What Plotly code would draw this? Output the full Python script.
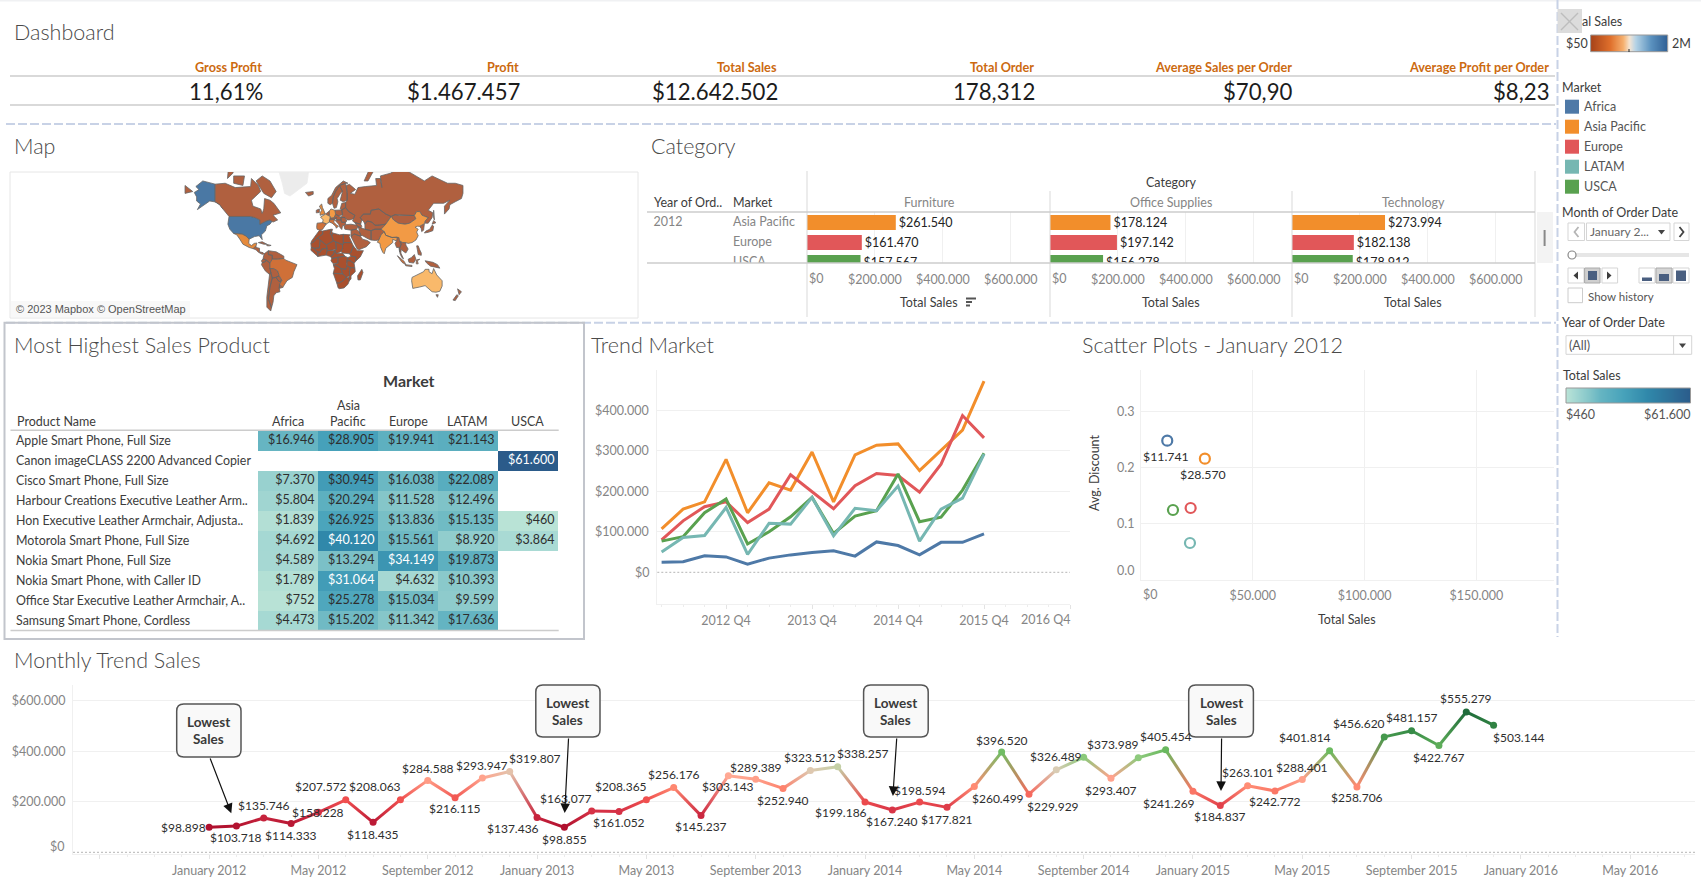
import math
import plotly.graph_objects as go
from plotly.colors import sample_colorscale

W, H = 1701, 892
FONT = "Lato"
TITLE_FONT = "Lato Light, Lato"

# ---------- data ----------
KPI_NAMES = ["Gross Profit", "Profit", "Total Sales", "Total Order", "Average Sales per Order", "Average Profit per Order"]
KPI_VALUES = ["11,61%", "$1.467.457", "$12.642.502", "178,312", "$70,90", "$8,23"]

MARKETS = ["Africa", "Asia Pacific", "Europe", "LATAM", "USCA"]
MARKET_COLORS = ["#4e79a7", "#f28e2b", "#e15759", "#76b7b2", "#59a14f"]

CATEGORY_NAMES = ["Furniture", "Office Supplies", "Technology"]
BAR_MARKETS = ["Asia Pacific", "Europe", "USCA"]
BAR_FURNITURE = [261540, 161470, 157567]
BAR_OFFICE = [178124, 197142, 156278]
BAR_TECHNOLOGY = [273994, 182138, 178912]

PRODUCTS = ["Apple Smart Phone, Full Size", "Canon imageCLASS 2200 Advanced Copier", "Cisco Smart Phone, Full Size",
            "Harbour Creations Executive Leather Arm..", "Hon Executive Leather Armchair, Adjusta..",
            "Motorola Smart Phone, Full Size", "Nokia Smart Phone, Full Size", "Nokia Smart Phone, with Caller ID",
            "Office Star Executive Leather Armchair, A..", "Samsung Smart Phone, Cordless"]
TABLE_AFRICA = [16946, None, 7370, 5804, 1839, 4692, 4589, 1789, 752, 4473]
TABLE_ASIA = [28905, None, 30945, 20294, 26925, 40120, 13294, 31064, 25278, 15202]
TABLE_EUROPE = [19941, None, 16038, 11528, 13836, 15561, 34149, 4632, 15034, 11342]
TABLE_LATAM = [21143, None, 22089, 12496, 15135, 8920, 19873, 10393, 9599, 17636]
TABLE_USCA = [None, 61600, None, None, 460, 3864, None, None, None, None]
TABLE_WHITE_TEXT = {40120, 34149, 31064, 61600}

QUARTER_TICKS = ["2012 Q4", "2013 Q4", "2014 Q4", "2015 Q4"]
TREND_AFRICA = [25000, 26000, 41000, 38000, 20000, 35000, 43000, 49000, 53000, 40000, 75000, 66000, 43000, 74000, 74000, 95000]
TREND_ASIA = [107000, 156000, 174000, 279000, 147000, 221000, 203000, 297000, 174000, 290000, 314000, 317000, 251000, 302000, 351000, 472000]
TREND_EUROPE = [80000, 127000, 162000, 174000, 123000, 156000, 241000, 199000, 157000, 214000, 244000, 239000, 198000, 267000, 387000, 332000]
TREND_LATAM = [50000, 86000, 91000, 160000, 44000, 121000, 119000, 185000, 90000, 158000, 152000, 213000, 77000, 156000, 183000, 292000]
TREND_USCA = [77000, 88000, 147000, 181000, 70000, 100000, 137000, 185000, 96000, 139000, 152000, 243000, 125000, 136000, 203000, 294000]

SCATTER_SALES = [11741, 28570, 22200, 21900, 14300]
SCATTER_DISCOUNT = [0.2476, 0.2155, 0.1274, 0.0649, 0.1238]
SCATTER_LABELS = ["$11.741", "$28.570", "", "", ""]

MONTHLY = [98898, 103718, 135746, 114333, 158228, 207572, 118435, 208063, 284588, 216115, 293947, 319807,
           137436, 98855, 163077, 161052, 208365, 256176, 145237, 303143, 289389, 252940, 323512, 338257,
           199186, 167240, 198594, 177821, 260499, 396520, 229929, 326489, 376000, 293407, 373989, 405454,
           241269, 184837, 263101, 242772, 288401, 401814, 258706, 456620, 481157, 422767, 555279, 503144]
MONTH_TICKS = ["January 2012", "May 2012", "September 2012", "January 2013", "May 2013", "September 2013",
               "January 2014", "May 2014", "September 2014", "January 2015", "May 2015", "September 2015",
               "January 2016", "May 2016"]
MONTH_NO_LABEL = [32]

# country outlines, lon/lat pairs
BROWN = "#b0603f"; AFR = "#a9502e"; BLUE = "#4a78a4"
MAP_GROUPS = {
 "#ececec": [[(-73,78),(-60,76),(-54,70),(-51,65),(-44,63.5),(-36,66),(-22,70),(-18,78),(-30,83),(-60,82)]],
 BLUE: [[(-168,65.5),(-162,67),(-166,68.5),(-157,71),(-141,69.6),(-141,60),(-135,58),(-131,55),(-134,58.5),(-140,59.8),(-148,60.5),(-152,59),(-158,56.5),(-164,54.5),(-160,58.5),(-165,60.5),(-165,63)],
        [(-123,49),(-95,49),(-89,48),(-83,46),(-83,42),(-75,45),(-70,46),(-67,45),(-70,42),(-74,40.5),(-76,35),(-81,31),(-80,25.5),(-82.5,28),(-84,30),(-90,29),(-97,26),(-101,29.5),(-106,31.7),(-114.7,32.5),(-117,32.5),(-122,37),(-124.5,42)]],
 BROWN: [[(-141,69.6),(-128,70),(-115,68),(-95,68.5),(-94,72),(-85,69),(-82,66),(-94,61),(-92,57),(-82,55),(-80,51.5),(-78,55),(-77,62),(-70,61),(-65,59),(-56,52),(-66,50),(-60,46),(-66,44),(-70,46),(-75,45),(-83,42),(-83,46),(-89,48),(-95,49),(-123,49),(-131,55),(-135,58),(-141,60)],
         [(-80,73),(-70,71),(-62,66),(-68,62.5),(-78,65),(-88,71)], [(-117,70),(-105,69),(-103,73),(-117,73)], [(-90,76),(-75,76),(-62,82),(-85,83)], [(-125,72),(-118,74),(-116,76),(-124,75)],
         [(28,56),(28,59.5),(30,61),(30,65),(29,69),(33,69.5),(41,67),(34,65),(40,64.5),(44,68),(54,68.5),(68,69),(67,72),(73,72),(75,68),(73,73),(86,74),(100,76),(113,74),(130,71),(140,73),(160,70),(170,70),(180,69),(180,65),(178,62),(170,60),(163,58),(162,55),(156,51),(156,57),(163,61),(155,59),(142,59),(135,54),(141,52),(140,48),(135,43),(131,43),(131,45),(135,48),(127,50),(124,53),(120,53),(117,49.8),(108,50),(98,50),(92,50.5),(87,49),(80,51),(71,55),(61,54),(60,51),(51,51),(47,48),(49,46),(47.5,42),(40,43.5),(37,45),(38,47),(40,50),(32,53)],
         [(-180,65),(-170,66),(-180,69)], [(52,71),(57,71),(68,76.5),(60,76)], [(142,54),(143,50),(143,46),(142,48)],
         [(47,48),(51,51),(60,51),(61,54),(71,55),(80,51),(87,49),(80,42),(70,41),(66,41),(62,44),(56,45),(53,42),(51,45),(49,46)],
         [(53,42),(56,45),(62,44),(66,41),(70,41),(80,42),(74,37),(66,37),(61,35.5),(53,37)],
         [(87,49),(92,50.5),(98,50),(108,50),(117,49.8),(119,47),(111,43),(105,42),(96,43),(90,46)],
         [(-24,65.5),(-14,66),(-14,64.5),(-20,63.5)], [(-10,52),(-6,52.3),(-6,55),(-10,54)],
         [(2,51),(4,52),(7,53.5),(7,50),(5,49.6)], [(8,47.6),(13,48),(17,48),(14,46.5),(7,46)],
         [(14,54),(23,54.3),(24,50.5),(19,49.5),(15,51)], [(13,48.2),(15,51),(19,49.5),(22,48.5),(22,46),(17,46)],
         [(14.5,45.5),(16.5,46),(22,46),(23,43.8),(28,43.8),(28,41.8),(26,40.8),(24,40.5),(23,36.7),(20,39.5),(19,42)],
         [(22,46),(22,48),(27,48.2),(29.5,45),(28,43.8),(23,43.8)],
         [(24,50.5),(23,54.3),(28,56),(32,53),(40,50),(38,47),(33,46),(30,46),(27,48.2),(22,48)],
         [(21,55),(23,54.3),(28,56),(28,59.5),(23,59)],
         [(5,59),(8,58),(11,59),(12,63),(15,66),(20,69),(28,70),(31,70),(25,71),(15,68),(10,64),(5,62)],
         [(11,59),(13,55.5),(16,56),(18,60),(17,62),(22,65.5),(24,66),(20,69),(15,66),(12,63)],
         [(24,66),(22,63),(21,61),(25,60),(30,61),(30,65),(29,69),(28,70),(20,69)],
         [(-77.5,8),(-72,12),(-72,7),(-67,6),(-67,1),(-70,-4),(-75,0),(-79,1.5)],
         [(-72,12),(-62,10.5),(-52,5),(-52,2),(-60,1),(-67,1),(-67,6),(-72,7)],
         [(-79,1.5),(-75,0),(-75.5,-2),(-80,-3.5),(-81,-1)],
         [(-80,-3.5),(-75.5,-2),(-75,0),(-70,-4),(-70,-11),(-69,-16),(-70.5,-18.5),(-76,-14),(-81,-6)],
         [(-70,-11),(-65,-11),(-60,-14),(-58,-20),(-62.5,-22),(-67,-22.8),(-69,-16)],
         [(-58,-20),(-54.5,-25.5),(-58,-27),(-62.5,-22)], [(-57.5,-30),(-53.5,-33.5),(-58,-34.5)],
         [(-70.5,-18.5),(-69,-16),(-67,-22.8),(-70,-33),(-72,-45),(-68,-52.5),(-69,-55),(-74,-52),(-74,-43),(-71.5,-30)],
         [(-67,-22.8),(-62.5,-22),(-58,-27),(-54.5,-25.5),(-57.5,-30),(-58,-34.5),(-57,-38),(-62,-39),(-65,-42),(-66,-48),(-68,-52.5),(-72,-45),(-70,-33)],
         [(-92,14.6),(-88,18),(-88,16),(-83.5,15),(-83.5,10.5),(-79,9.5),(-77.5,8),(-80,7.3),(-85,10),(-88,13)],
         [(-85,22),(-80,23),(-74,20),(-78,20)], [(-74,19.8),(-68.5,18.6),(-71,18),(-74,18.2)],
         [(35,29),(39,32),(47,29.5),(50,26),(56,24.5),(60,22),(55,17),(45,13),(43,14),(39,21)],
         [(35,36),(42,37),(46,34),(48,30),(47,29.5),(39,32),(35,29)],
         [(26,40),(28,41.5),(35,42),(42,41),(44.5,39.5),(42,37),(35,36),(30,36.2),(27,37)],
         [(44.5,39.5),(48,38.5),(53,37),(61,35.5),(61,25),(57,26.5),(50,30),(48,30),(46,34)],
         [(40,43.5),(47.5,42),(49,40),(48,38.5),(44.5,39.5),(42,41)],
         [(61,35.5),(66,37),(74,37),(78,34.5),(74,31),(71,25),(67,24.5),(61,25)],
         [(94,24),(95,28.5),(97,28),(98,24),(100,20),(98,15),(98,10),(97,16),(94,16),(92,21)],
         [(98,24),(102,22),(106,22),(106,19),(109,14),(106,9),(103,11),(100,13.5),(99.5,9),(103,1.5),(101,3),(98.5,8),(98,15),(100,20)],
         [(124,40),(130,42.5),(129,36),(126.5,34.5),(126,37.5)],
         [(130,33),(135,33.7),(141,35.5),(142,40),(140,41),(137,37),(132,35)], [(140,42),(145,43.5),(142,45.5)],
         [(120,18),(122,18),(124,13),(126,9),(126,6),(122,7),(121,13)],
         [(109,1),(113,3),(117,7),(119,1),(116,-4),(110,-3)], [(131,-1),(141,-3),(147,-6),(150,-10.5),(143,-9),(138,-8),(133,-4)],
         [(173,-35),(178,-38),(175,-41),(174,-39)], [(172,-41),(174,-42),(170,-46.5),(167,-46)], [(145,-41),(148,-41),(147,-43.5)]],
 AFR: [[(-6,35.8),(-2,35),(-1.5,32),(-8.7,27.5),(-13,23),(-17,21),(-16,24),(-13,27.7),(-9.8,31.5),(-7,33.5)],
       [(-2,35),(9,37),(8,32),(10,30),(12,24),(3,19),(-5,25),(-8.7,27.5),(-1.5,32)],
       [(9,37),(11,37),(10,34),(11.5,33),(10,30),(8,32)],
       [(11.5,33),(20,31),(25,31.5),(25,20),(24,19.5),(15,23),(12,24),(10,30)],
       [(25,31.5),(34,31),(32.5,29),(36,22),(25,22)],
       [(-17,21),(-13,23),(-8.7,27.5),(-5,25),(-6,15.5),(-12,15),(-16.5,16)],
       [(-12,15),(-6,15.5),(-5,25),(3,19),(4,15),(-3,14),(-5,10),(-8,10.5),(-11.5,12.5)],
       [(3,19),(12,24),(15,23),(16,13.5),(13,13),(4,12),(4,15)],
       [(15,23),(24,19.5),(24,15),(22,11),(16,8),(14,12.5),(16,13.5)],
       [(25,22),(36,22),(38,18),(35,10),(33,8),(24,9),(22,11),(24,15),(24,19.5)],
       [(-16.5,16),(-12,15),(-11.5,12.5),(-8,10.5),(-8,4.5),(-13,8.5),(-17,12.5)],
       [(-8,10.5),(-5,10),(-3,14),(4,15),(4,12),(2.7,6.3),(-8,4.5)],
       [(4,12),(13,13),(14,12.5),(12,7),(8.5,4.5),(5,5.5),(2.7,6.3)],
       [(14,12.5),(16,8),(24,9),(27,5),(18,3.5),(10,2),(8.5,4.5),(12,7)],
       [(38,18),(43,12),(51,12),(47,4),(41,-1.5),(41,4),(35,5),(33,8),(35,10)],
       [(10,2),(18,3.5),(18,-4),(12,-5),(9,-1)],
       [(18,3.5),(27,5),(31,3),(29.5,-4),(30,-8),(28,-12),(22,-11),(18,-8),(12,-6),(18,-4)],
       [(31,3),(35,5),(41,4),(41,-1.5),(39,-4.5),(34,-1),(29.5,-1)],
       [(29.5,-1),(34,-1),(39,-4.5),(40,-10.5),(34,-9.5),(30,-8)],
       [(12,-6),(18,-8),(22,-11),(24,-17.5),(12,-17),(13.5,-11)],
       [(22,-11),(28,-12),(30,-8),(34,-9.5),(33,-15),(33,-20),(29,-22),(25,-18),(24,-17.5)],
       [(34,-9.5),(40,-10.5),(40.5,-15),(35,-20),(35,-24),(32.8,-26),(31.5,-22.5),(33,-20),(33,-15)],
       [(12,-17),(24,-17.5),(25,-18),(29,-22),(25,-25.5),(20,-28.5),(16.5,-28.5)],
       [(16.5,-28.5),(20,-28.5),(25,-25.5),(29,-22),(31.5,-22.5),(32.8,-26),(31,-30),(26,-34),(20,-34.8),(18.3,-34)],
       [(49,-12),(50.5,-16),(47,-25),(44,-25),(43.5,-20),(46,-16)]],
 "#f29a45": [[(74,37),(80,42),(87,49),(90,46),(96,43),(105,42),(111,43),(119,47),(117,49.8),(120,53),(124,53),(127,50),(135,48),(131,45),(130,42.5),(124,40),(121,40),(118,39),(122,37),(120,34),(122,30),(119,25),(114,22),(109,21),(106,22),(102,22),(98,24),(97,28),(88,28),(80,30.5),(78,34.5)],
             [(74,31),(78,34.5),(80,30.5),(88,28),(95,28.5),(94,24),(91,25),(89,26),(89,22),(86,20),(80,15),(78,8),(76,10),(73,17),(72.5,21),(69,22.5),(71,25)],
             [(7,53.5),(9,55),(14,54),(15,51),(13,48),(8,47.6),(8,49),(6,49.6),(7,50)]],
 "#f9b96b": [[(114,-22),(122,-18),(129,-15),(131,-12),(136,-12),(136,-15),(140,-17.5),(142,-11),(146,-19),(153,-26),(153,-32),(150,-37.5),(145,-38.5),(140,-38),(136,-35),(131,-31.5),(124,-33),(115,-34.5),(113.5,-26)],
             [(-2,43.5),(-1,46),(-4.5,48.5),(2,51),(8,49),(7,44),(3,42.3)]],
 "#cf7038": [[(-70,-4),(-67,1),(-60,1),(-52,2),(-50,0),(-44,-2.5),(-35,-6),(-39,-15),(-41,-22),(-48,-26),(-53.5,-33.5),(-57.5,-30),(-54.5,-25.5),(-58,-20),(-60,-14),(-65,-11),(-70,-11)],
             [(-9,43),(-2,43.5),(3,42.3),(0,39),(-2,36.8),(-5.5,36),(-9,37),(-9.5,39)],
             [(7,44),(7,46),(14,46.5),(12.5,44),(16,41.5),(18.5,40),(16,38),(15,40),(10.5,43)],
             [(95,5.5),(104,-2),(106,-6),(101,-3)], [(105,-6),(114,-7),(114,-8.5),(106,-7.5)], [(119.5,0),(124,1),(121,-1),(122,-5),(119.5,-5)]],
 "#e58a3c": [[(-117,32.5),(-114.7,32.5),(-106,31.7),(-101,29.5),(-97,26),(-97.5,21),(-94,18.3),(-90.5,21),(-87,21.5),(-88,18),(-92,14.6),(-97,16),(-105,20),(-109,26),(-113,31)],
             [(-5,50),(1.5,51.2),(0,53.5),(-2,56),(-3,58.5),(-6,57),(-3,54),(-5,52)]],
}

HEAT_STOPS = [[0, "#b9e3d6"], [0.07, "#a5d8d3"], [0.18, "#85c6c9"], [0.27, "#66b5c2"], [0.45, "#48a3bb"], [0.65, "#3088aa"], [1, "#2b5b8a"]]
MONTH_STOPS = [[0, "#b0102e"], [0.13, "#d32f45"], [0.24, "#f0504f"], [0.35, "#ff8a72"], [0.45, "#ffaa95"], [0.5, "#d8cdb5"], [0.56, "#a6d593"], [0.66, "#6dbb60"], [0.82, "#3a8f48"], [1, "#1f6b3a"]]
MAP_STOPS = [[0, "#a7441a"], [0.25, "#e0702c"], [0.42, "#f6b16f"], [0.5, "#f5e6d3"], [0.58, "#b5d3e6"], [0.78, "#5b92bf"], [1, "#2f5f94"]]

# ---------- helpers ----------
def X(p): return p / W
def Y(p): return 1 - p / H

shapes, annos, traces, layout_axes = [], [], [], {}
TXT = "#3c3c3c"; GREY = "#858585"; GRID = "#f0f0f0"; TITLE = "#4a4a4a"

def txt(x, y, s, size=12.5, color=TXT, anchor="left", bold=False, family=FONT, angle=0):
    if bold: s = f"<b>{s}</b>"
    annos.append(dict(xref="paper", yref="paper", x=X(x), y=Y(y), text=s, showarrow=False, xanchor=anchor,
                      yanchor="middle", font=dict(size=size, color=color, family=family), textangle=angle,
                      borderpad=0, borderwidth=0))

def title(x, y, s):
    txt(x, y, s, 21.5, TITLE, family=TITLE_FONT)

def line(x0, y0, x1, y1, color="#cfcfcf", width=1.5, dash=None):
    shapes.append(dict(type="line", xref="paper", yref="paper", x0=X(x0), y0=Y(y0), x1=X(x1), y1=Y(y1),
                       line=dict(color=color, width=width, dash=dash)))

def rect(x0, y0, x1, y1, fill=None, color=None, width=1, layer="above"):
    shapes.append(dict(type="rect", xref="paper", yref="paper", x0=X(x0), y0=Y(y0), x1=X(x1), y1=Y(y1),
                       fillcolor=fill or "rgba(0,0,0,0)", line=dict(color=color or "rgba(0,0,0,0)", width=width if color else 0), layer=layer))

def path(pts, fill=None, color=None, width=1, close=True):
    d = "M " + " L ".join(f"{X(a):.6f},{Y(b):.6f}" for a, b in pts) + (" Z" if close else "")
    shapes.append(dict(type="path", xref="paper", yref="paper", path=d, fillcolor=fill or "rgba(0,0,0,0)",
                       line=dict(color=color or "rgba(0,0,0,0)", width=width if color else 0)))

def rounded(x0, y0, x1, y1, r, fill, color, width):
    a, b, c, d = X(x0), Y(y0), X(x1), Y(y1)
    rx, ry = r / W, r / H
    p = (f"M {a+rx},{b} L {c-rx},{b} Q {c},{b} {c},{b-ry} L {c},{d+ry} Q {c},{d} {c-rx},{d} "
         f"L {a+rx},{d} Q {a},{d} {a},{d+ry} L {a},{b-ry} Q {a},{b} {a+rx},{b} Z")
    shapes.append(dict(type="path", xref="paper", yref="paper", path=p, fillcolor=fill, line=dict(color=color, width=width)))

def axes(n, box, xr, yr, xo=None, yo=None):
    x0, y0, x1, y1 = box
    base = dict(showgrid=False, zeroline=False, showticklabels=False, fixedrange=True, ticks="",
                tickfont=dict(family=FONT, size=12.5, color=GREY), showline=False)
    layout_axes[f"xaxis{n}"] = {**base, "domain": [X(x0), X(x1)], "range": xr, "anchor": f"y{n}", **(xo or {})}
    layout_axes[f"yaxis{n}"] = {**base, "domain": [Y(y1), Y(y0)], "range": yr, "anchor": f"x{n}", **(yo or {})}

def money(v): return "$" + f"{v:,}".replace(",", ".")
def scale(stops, t): return sample_colorscale(stops, [max(0, min(1, t))], colortype="rgb")[0]

def merc(lat): return math.log(math.tan(math.pi / 4 + math.radians(max(-85, min(85, lat))) / 2))

# ---------- frame ----------
rect(0, 0, W, 1.5, fill="#f0f1f3", layer="below")
DASH = "#c8d2e6"
line(6, 124, 1556, 124, DASH, 2, "9px,3px")
line(6, 322.7, 1556, 322.7, DASH, 2, "9px,3px")
line(1557.5, 0, 1557.5, 637, DASH, 2, "9px,3px")

# ---------- KPI ----------
title(14, 32, "Dashboard")
line(10, 76, 1555, 76, "#cccccc"); line(10, 105, 1555, 105, "#cccccc")
for name, val, xr in zip(KPI_NAMES, KPI_VALUES, [262, 519, 777, 1034, 1291.5, 1549]):
    txt(xr, 67, name, 12.7, "#cc6a10", "right", True)
    txt(xr + 1, 92, val, 22.2, "#1c1c1c", "right")

# ---------- map ----------
title(14, 146, "Map")
rect(10, 172, 638, 318, color="#e6e6e6", width=1, layer="below")
axes(2, (10, 172, 638, 318), [-406.7, 406.7], [-1.312, 1.99])
for col, polys in MAP_GROUPS.items():
    xs, ys = [], []
    for poly in polys:
        xs += [p[0] for p in poly] + [poly[0][0], None]
        ys += [merc(p[1]) for p in poly] + [merc(poly[0][1]), None]
    traces.append(go.Scatter(x=xs, y=ys, xaxis="x2", yaxis="y2", mode="lines", fill="toself", fillcolor=col,
                             line=dict(color="#ececec" if col == "#ececec" else "#666666", width=0.8), hoverinfo="skip"))
rect(11, 301, 190, 317, fill="#f8f8f8", layer="above")
txt(15.7, 309, "© 2023 Mapbox © OpenStreetMap", 11, "#555555", family="Liberation Sans")

# ---------- category ----------
title(650.5, 146, "Category")
txt(1171, 182, "Category", 12.5, TXT, "center")
txt(653.5, 202, "Year of Ord..", 12.5, TXT)
txt(733, 202, "Market", 12.5, TXT)
for c, xc in zip(CATEGORY_NAMES, [929, 1171, 1413]):
    txt(xc, 202, c, 12.5, GREY, "center")
for xc in [929, 1171, 1413]:
    txt(xc, 302.5, "Total Sales", 12.5, TXT, "center")
for xv, top in [(807, 171), (1050, 191), (1292, 191), (1535, 171)]:
    line(xv, top, xv, 317, "#d9d9d9", 1)
line(647, 212, 1535, 212, "#cccccc"); line(647, 263, 1535, 263, "#cccccc")
for i, w in enumerate([10, 6, 4]):
    line(966, 298.5 + i * 3.5, 966 + w, 298.5 + i * 3.5, "#555555", 2)
rowr = [2.025, -0.525]
axes(3, (647, 212, 807, 263), [0, 160], rowr)
traces.append(go.Scatter(x=[86, 86, 86], y=[0, 1, 2], xaxis="x3", yaxis="y3", mode="text", text=BAR_MARKETS,
                         textposition="middle right", textfont=dict(family=FONT, size=12.5, color=GREY), hoverinfo="skip"))
traces.append(go.Scatter(x=[6.5], y=[0.03], xaxis="x3", yaxis="y3", mode="text", text=["2012"],
                         textposition="middle right", textfont=dict(family=FONT, size=12.5, color=GREY), hoverinfo="skip"))
for n, (x0, vals) in enumerate(zip([807, 1050, 1292], [BAR_FURNITURE, BAR_OFFICE, BAR_TECHNOLOGY])):
    ax = 4 + n
    axes(ax, (x0, 212, x0 + 243, 263), [0, 715700], rowr,
         dict(showgrid=True, gridcolor=GRID, tickvals=[200000, 400000, 600000], ticktext=["$200.000", "$400.000", "$600.000"],
              showticklabels=True, ticks="outside", ticklen=5, tickcolor="rgba(0,0,0,0)"))
    traces.append(go.Bar(x=vals, y=[0, 1, 2], orientation="h", width=0.75, xaxis=f"x{ax}", yaxis=f"y{ax}",
                         marker=dict(color=[MARKET_COLORS[MARKETS.index(m)] for m in BAR_MARKETS], line=dict(width=0)),
                         text=[money(v) for v in vals], textposition="outside", cliponaxis=True,
                         textfont=dict(family=FONT, size=12.5, color="#222222"), hovertemplate="%{text}<extra></extra>"))
    txt(x0 + 9, 278, "$0", 12.5, GREY, "center")
rect(1537, 212, 1553, 263, fill="#f3f3f3")
line(1544.6, 230, 1544.6, 246, "#888888", 2)

# ---------- table ----------
rect(4.5, 322.7, 584, 639, color="#c2c5cc", width=2)
title(14, 345, "Most Highest Sales Product")
txt(409, 380.7, "Market", 16, TXT, "center", True)
txt(16.5, 421.7, "Product Name", 12.5, TXT)
txt(288, 421.7, "Africa", 12.5, TXT, "center")
txt(348, 405, "Asia", 12.5, TXT, "center")
txt(348, 421, "Pacific", 12.5, TXT, "center")
txt(408, 421.7, "Europe", 12.5, TXT, "center")
txt(467.7, 421.7, "LATAM", 12.5, TXT, "center")
txt(527.8, 421.7, "USCA", 12.5, TXT, "center")
line(10.5, 430.3, 558.7, 430.3, "#cccccc"); line(10.5, 630.5, 558.7, 630.5, "#cccccc")
axes(7, (258, 430.5, 558, 630.5), [-0.5, 4.5], [9.5, -0.5])
cols = [TABLE_AFRICA, TABLE_ASIA, TABLE_EUROPE, TABLE_LATAM, TABLE_USCA]
z = [[c[r] for c in cols] for r in range(len(PRODUCTS))]
traces.append(go.Heatmap(z=z, x=list(range(5)), y=list(range(10)), xaxis="x7", yaxis="y7", colorscale=HEAT_STOPS,
                         zmin=460, zmax=61600, showscale=False, hovertemplate="$%{z}<extra></extra>"))
tx, ty, tt, tc = [], [], [], []
for r in range(10):
    txt(16, 440.5 + 20 * r, PRODUCTS[r], 12.4, TXT)
    for c in range(5):
        if z[r][c] is not None:
            tx.append(c + 0.44); ty.append(r); tt.append(money(z[r][c]))
            tc.append("#ffffff" if z[r][c] in TABLE_WHITE_TEXT else "#2e2e2e")
traces.append(go.Scatter(x=tx, y=ty, xaxis="x7", yaxis="y7", mode="text", text=tt, textposition="middle left",
                         textfont=dict(family=FONT, size=12.5, color=tc), hoverinfo="skip"))

# ---------- trend ----------
title(590.5, 345, "Trend Market")
axes(8, (657.3, 370, 1070, 604.3), [-0.2, 19], [-79000, 499500],
     dict(tickvals=[3, 7, 11, 15, 19], ticktext=QUARTER_TICKS + [""], showticklabels=True, ticks="outside", ticklen=4, tickcolor="#e3e3e3",
          ticklabelstandoff=1, showline=True, linecolor=GRID, minor=dict(ticks="outside", ticklen=2, tickcolor="#ececec", dtick=1, tick0=0)),
     dict(tickvals=[100000, 200000, 300000, 400000], ticktext=["$100.000", "$200.000", "$300.000", "$400.000"], showticklabels=True,
          showgrid=True, gridcolor=GRID, ticks="outside", ticklen=5, tickcolor="rgba(0,0,0,0)", showline=True, linecolor=GRID))
txt(650, 572.3, "$0", 12.5, GREY, "right")
txt(1045, 619.3, "2016 Q4", 12.5, GREY, "center")
shapes.append(dict(type="line", xref="x8 domain", yref="y8", x0=0, x1=1, y0=0, y1=0, line=dict(color="#b5b5b5", width=1, dash="2px,2px")))
for name, vals in [("Africa", TREND_AFRICA), ("Asia Pacific", TREND_ASIA), ("Europe", TREND_EUROPE), ("USCA", TREND_USCA), ("LATAM", TREND_LATAM)]:
    traces.append(go.Scatter(x=list(range(16)), y=vals, xaxis="x8", yaxis="y8", mode="lines", name=name,
                             line=dict(color=MARKET_COLORS[MARKETS.index(name)], width=3)))

# ---------- scatter ----------
title(1081.5, 345, "Scatter Plots - January 2012")
axes(9, (1141, 370, 1554, 580), [0, 184700], [-0.0012, 0.3738],
     dict(tickvals=[50000, 100000, 150000], ticktext=["$50.000", "$100.000", "$150.000"], showticklabels=True, showgrid=True, gridcolor=GRID,
          ticks="outside", ticklen=4, tickcolor="rgba(0,0,0,0)", showline=True, linecolor=GRID),
     dict(tickvals=[0.1, 0.2, 0.3], ticktext=["0.1", "0.2", "0.3"], showticklabels=True, showgrid=True, gridcolor=GRID,
          ticks="outside", ticklen=3, tickcolor="rgba(0,0,0,0)", showline=True, linecolor=GRID))
txt(1134, 570.7, "0.0", 12.5, GREY, "right")
txt(1150, 594.3, "$0", 12.5, GREY, "center")
txt(1347, 619, "Total Sales", 12.5, TXT, "center")
txt(1094, 473, "Avg. Discount", 12.5, TXT, "center", angle=-90)
traces.append(go.Scatter(x=SCATTER_SALES, y=SCATTER_DISCOUNT, xaxis="x9", yaxis="y9", mode="markers",
                         marker=dict(size=10, color="rgba(255,255,255,0.9)", line=dict(width=2.2, color=MARKET_COLORS)),
                         hovertemplate="%{x}, %{y}<extra></extra>"))
for sx, sy, lab in zip(SCATTER_SALES, SCATTER_DISCOUNT, SCATTER_LABELS):
    if lab:
        annos.append(dict(xref="x9", yref="y9", x=sx, y=sy, text=lab, showarrow=False, yshift=-16, xshift=-1.5,
                          xanchor="center", yanchor="middle", font=dict(family=FONT, size=12.3, color="#2e2e2e")))

# ---------- monthly ----------
title(14, 660, "Monthly Trend Sales")
axes(10, (73, 685, 1695, 854), [-4.98, 54.37], [-6700, 662000],
     dict(tickvals=[-4] + list(range(0, 56, 4)), ticktext=[""] + MONTH_TICKS, showticklabels=True, ticks="outside", ticklen=4, tickcolor="#e3e3e3",
          ticklabelstandoff=1, showline=True, linecolor=GRID, minor=dict(ticks="outside", ticklen=2, tickcolor="#ececec", dtick=1, tick0=0)),
     dict(tickvals=[200000, 400000, 600000], ticktext=["$200.000", "$400.000", "$600.000"], showticklabels=True, showgrid=True, gridcolor=GRID,
          ticks="outside", ticklen=4, tickcolor="rgba(0,0,0,0)", showline=True, linecolor=GRID))
txt(65, 846, "$0", 12.5, GREY, "right")
shapes.append(dict(type="line", xref="x10 domain", yref="y10", x0=0, x1=1, y0=0, y1=0, line=dict(color="#b5b5b5", width=1, dash="2px,2px")))
lo, hi = min(MONTHLY), max(MONTHLY)
mcol = [scale(MONTH_STOPS, (v - lo) / (hi - lo)) for v in MONTHLY]
for i in range(47):
    traces.append(go.Scatter(x=[i, i + 1], y=MONTHLY[i:i + 2], xaxis="x10", yaxis="y10", mode="lines", hoverinfo="skip",
                             meta=[mcol[i], mcol[i + 1]], line=dict(color=scale(MONTH_STOPS, ((MONTHLY[i] + MONTHLY[i + 1]) / 2 - lo) / (hi - lo)), width=3)))
traces.append(go.Scatter(x=list(range(48)), y=MONTHLY, xaxis="x10", yaxis="y10", mode="markers",
                         marker=dict(size=7, color=mcol), hovertemplate="%{y}<extra></extra>"))
LABEL_DX = [-26, 0, 0, 0, 0, -25, 0, -25, 0, 0, 0, 25, -24, 0, -26, 0, -25, 0, 0, 0, 0, 0, 0, 25,
            -24, 0, 0, 0, 24, 0, 24, 0, 0, 0, -25, 0, -24, 0, 0, 0, 0, -25, 0, -25, 0, 0, 0, 25]
LABEL_DY = [0, 11, -13, 12, 0, -13, 12, -13, -12, 11, -13, -13, 11, 12, -13, 11, -13, -13, 11, 11, -12, 12, -13, -13,
            11, 11, -12, 12, 12, -12, 12, -13, 0, 12, -13, -13, 12, 11, -13, 11, -12, -13, 11, -13, -13, 12, -13, 12]
for i, v in enumerate(MONTHLY):
    if i in MONTH_NO_LABEL:
        continue
    annos.append(dict(xref="x10", yref="y10", x=i, y=v, text=money(v), showarrow=False, xshift=LABEL_DX[i], yshift=-LABEL_DY[i],
                      xanchor="center", yanchor="middle", font=dict(family=FONT, size=12, color="#2e2e2e")))
CALLOUTS = [(176.7, 704, 241, 757, (209.6, 757), (231.3, 813.3)), (535.8, 685, 600, 737, (568.6, 737), (564.7, 813)),
            (863.6, 685, 928.2, 737, (896.8, 737), (892.9, 796)), (1188.7, 685, 1253.4, 737, (1221.6, 737), (1221, 791))]
for x0, y0, x1, y1, tail, head in CALLOUTS:
    rounded(x0, y0, x1, y1, 7, "#f9f9f9", "#555555", 1.5)
    txt((x0 + x1) / 2, y0 + 18, "Lowest", 13.5, "#3a3a3a", "center", True)
    txt((x0 + x1) / 2, y0 + 35, "Sales", 13.5, "#3a3a3a", "center", True)
    annos.append(dict(xref="paper", yref="paper", x=X(head[0]), y=Y(head[1]), ax=tail[0] - head[0], ay=tail[1] - head[1],
                      text="", showarrow=True, arrowhead=2, arrowsize=1.6, arrowwidth=1.2, arrowcolor="#111111"))

# ---------- right panel ----------
rect(1557.5, 9, 1582, 33, fill="#dcdcdc")
line(1561, 13, 1578, 30, "#bdbdbd", 1.5); line(1578, 13, 1561, 30, "#bdbdbd", 1.5)
txt(1582, 22, "al Sales", 12.5, TXT)
txt(1566, 43.7, "$50", 12.5, TXT)
txt(1672, 43.7, "2M", 12.5, TXT)
axes(11, (1590.6, 35, 1667.7, 51.7), [0, 1], [0, 1])
traces.append(go.Heatmap(z=[[0, 1], [0, 1]], x=[0, 1], y=[0, 1], xaxis="x11", yaxis="y11", colorscale=MAP_STOPS, showscale=False, zsmooth="best", hoverinfo="skip"))
rect(1590.6, 35, 1667.7, 51.7, color="#999999", width=1)
line(1629, 49, 1629, 52, "#222222", 1)

txt(1562, 87, "Market", 12.5, TXT)
for i, (m, c) in enumerate(zip(MARKETS, MARKET_COLORS)):
    rect(1565, 99.7 + 20 * i, 1579, 113.7 + 20 * i, fill=c)
    txt(1584, 106.7 + 20 * i, m, 12.5, "#555555")

txt(1562, 212.7, "Month of Order Date", 12.5, TXT)
BTN = "#d5d5d5"
rect(1568, 223, 1584.5, 240.5, color=BTN)
rect(1586.5, 223, 1670, 240.5, color=BTN)
rect(1674, 223, 1689, 240.5, color=BTN)
path([(1578.5, 227), (1574.5, 232), (1578.5, 237)], color="#b5b5b5", width=1.8, close=False)
path([(1679.5, 227), (1683.5, 232), (1679.5, 237)], color="#444444", width=1.8, close=False)
txt(1590, 232, "January 2...", 12, "#666666")
path([(1658, 230), (1665, 230), (1661.5, 234.5)], fill="#444444")
rect(1569, 253, 1689, 257, fill="#e6e6e6")
shapes.append(dict(type="circle", xref="paper", yref="paper", x0=X(1568), y0=Y(251), x1=X(1576), y1=Y(259), fillcolor="#ffffff", line=dict(color="#888888", width=1.2)))
for a, b in [(1568, 1584), (1602, 1617.6), (1639, 1655), (1673, 1689)]:
    rect(a, 268, b, 283, color=BTN)
rect(1584.6, 268, 1600, 283, fill="#cfcfcf", color="#aaaaaa")
rect(1656, 268, 1672, 283, fill="#d5d5d5", color="#aaaaaa")
path([(1578, 271.5), (1578, 279.5), (1573.5, 275.5)], fill="#3c3c3c")
path([(1607, 271.5), (1607, 279.5), (1611.5, 275.5)], fill="#3c3c3c")
rect(1588, 271, 1597, 280, fill="#4a5f80")
rect(1642, 277.5, 1652, 281, fill="#4a5f80")
rect(1659, 274, 1669, 281, fill="#4a5f80")
rect(1676, 270.5, 1686, 281, fill="#4a5f80")
rect(1568, 288, 1582.5, 302.7, color="#cccccc")
txt(1588, 296, "Show history", 11.5, "#555555")

txt(1562, 322.7, "Year of Order Date", 12.5, TXT)
rect(1566, 335.7, 1691.7, 354.3, color=BTN)
line(1673.6, 335.7, 1673.6, 354.3, BTN, 1)
txt(1569, 345.7, "(All)", 12.5, "#555555")
path([(1679, 343.5), (1686, 343.5), (1682.5, 348)], fill="#444444")

txt(1562.6, 375, "Total Sales", 12.5, TXT)
axes(12, (1566, 388, 1690.5, 403), [0, 1], [0, 1])
traces.append(go.Heatmap(z=[[0, 1], [0, 1]], x=[0, 1], y=[0, 1], xaxis="x12", yaxis="y12", colorscale=HEAT_STOPS, showscale=False, zsmooth="best", hoverinfo="skip"))
rect(1566, 388, 1690.5, 403, color="#999999", width=1)
txt(1566, 414, "$460", 12.5, "#555555")
txt(1690, 414, "$61.600", 12.5, "#555555", "right")

fig = go.Figure(data=traces)
fig.update_layout(width=W, height=H, autosize=False, margin=dict(l=0, r=0, t=0, b=0, pad=0), paper_bgcolor="white", plot_bgcolor="rgba(0,0,0,0)",
                  showlegend=False, shapes=shapes, annotations=annos, barmode="overlay", font=dict(family=FONT, size=12.5, color=TXT),
                  **layout_axes)

POST = """
document.body.style.margin='0';document.body.style.overflow='hidden';
var gd=document.getElementById('{plot_id}');
var svg=gd.querySelector('svg.main-svg');
var defs=svg.querySelector('defs');
var ns='http://www.w3.org/2000/svg';var k=0;
gd.querySelectorAll('.scatterlayer .trace').forEach(function(el){
  var d=el.__data__;if(!d||!d[0]||!d[0].trace||!d[0].trace.meta)return;
  var m=d[0].trace.meta;var p=el.querySelector('path.js-line');if(!p)return;
  var c=p.getAttribute('d').replace(/[ML]/g,' ').trim().split(/[ ,]+/).map(Number);
  var g=document.createElementNS(ns,'linearGradient');var id='seg'+(k++);
  g.setAttribute('id',id);g.setAttribute('gradientUnits','userSpaceOnUse');
  g.setAttribute('x1',c[0]);g.setAttribute('y1',c[1]);g.setAttribute('x2',c[2]);g.setAttribute('y2',c[3]);
  [[0,m[0]],[1,m[1]]].forEach(function(s){var t=document.createElementNS(ns,'stop');t.setAttribute('offset',s[0]);t.setAttribute('stop-color',s[1]);g.appendChild(t);});
  defs.appendChild(g);p.style.stroke='url(#'+id+')';
});
"""
fig.write_html("out.html", config=dict(displayModeBar=False), post_script=POST)
